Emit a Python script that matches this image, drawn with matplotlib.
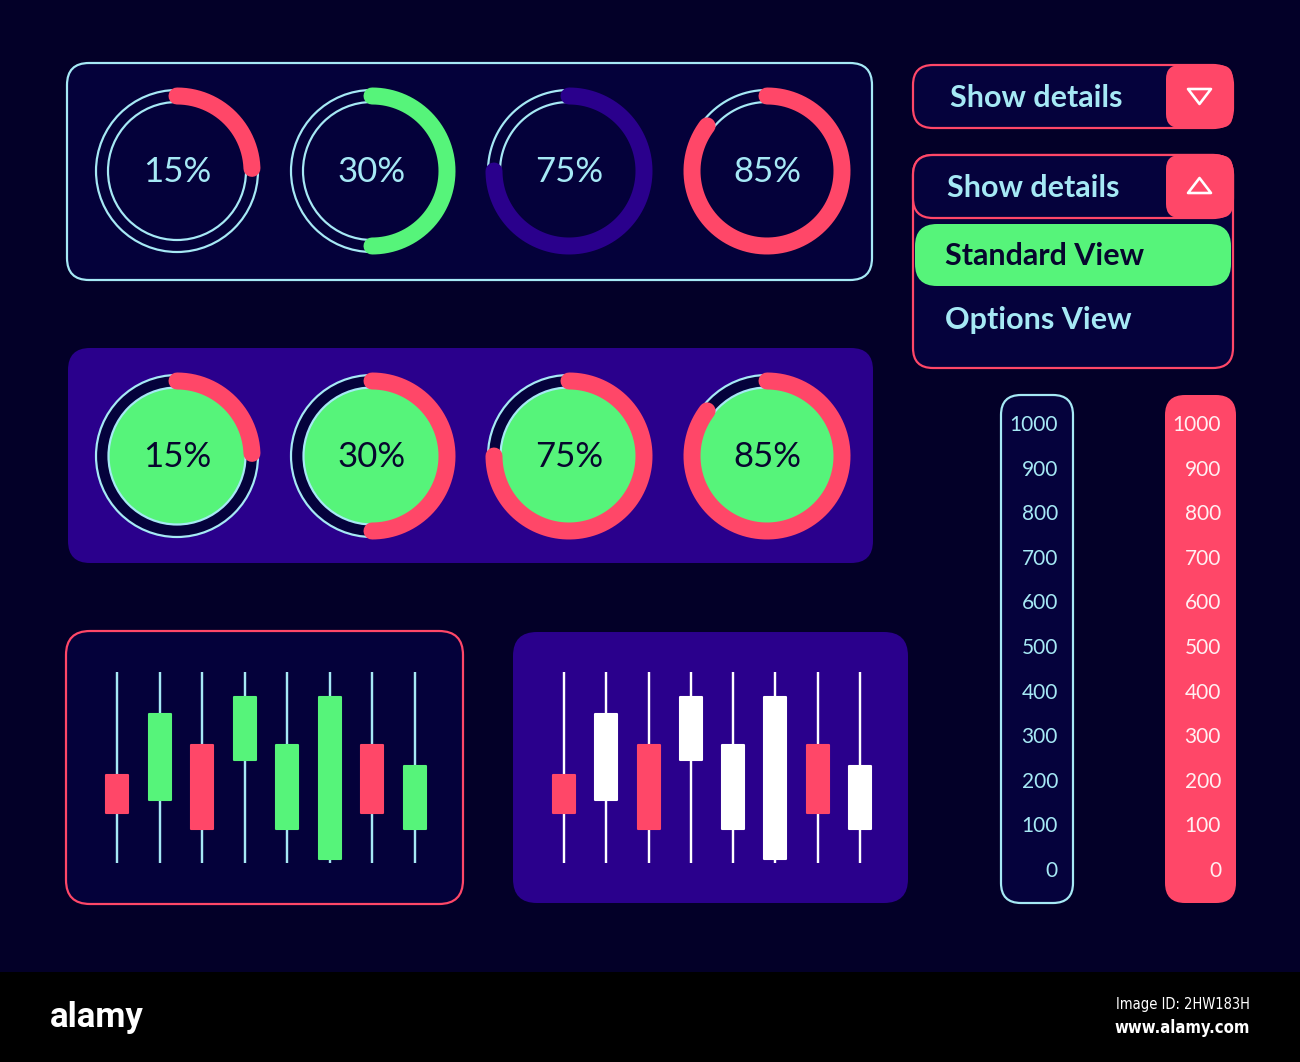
import matplotlib.pyplot as plt
import numpy as np
from matplotlib.patches import FancyBboxPatch, Circle, Polygon

# colours
bg = '#030028'
navy = '#05023c'
cyan = '#a6e9f5'
red = '#ff4768'
green = '#56f47a'
purple = '#2a008c'
dark_txt = '#07062e'

# donut widgets
pct_labels = ['15%', '30%', '75%', '85%']
arc_sweep = [88, 180, 270, 307]          # degrees clockwise from 12 o'clock
top_arc_colors = [red, green, purple, red]

# candlesticks (wick spans 0..100)
candle_low = [26, 33, 18, 54, 18, 2, 26, 18]
candle_high = [46, 78, 62, 87, 62, 87, 62, 51]
candle_up = [False, True, False, True, True, True, False, True]

# vertical scales
scale_ticks = [0, 100, 200, 300, 400, 500, 600, 700, 800, 900, 1000]

# dropdowns
menu_title = 'Show details'
menu_items = ['Standard View', 'Options View']

W, H = 1300, 1062
fig = plt.figure(figsize=(W / 100, H / 100), dpi=100, facecolor=bg)
ax = fig.add_axes([0, 0, 1, 1])
ax.set_xlim(0, W)
ax.set_ylim(H, 0)
ax.axis('off')
ax.set_facecolor(bg)

PX = 0.72  # points per pixel


def rbox(x0, y0, x1, y1, r, fc, ec='none', lw=0, z=1):
    p = FancyBboxPatch((x0, y0), x1 - x0, y1 - y0,
                       boxstyle=f'round,pad=0,rounding_size={r}',
                       fc=fc, ec=ec, lw=lw * PX, zorder=z)
    ax.add_patch(p)


def arc(cx, cy, r, sweep, color, width, z=5):
    t = np.radians(np.linspace(90, 90 - sweep, 300))
    ax.plot(cx + r * np.cos(t), cy - r * np.sin(t), color=color,
            lw=width * PX, solid_capstyle='round', zorder=z)


pct_font = dict(family='Lato', weight='normal', fontsize=25)
menu_font = dict(family='Lato', weight='bold', fontsize=22)

ax.add_patch(plt.Rectangle((0, 0), W, H, fc=bg, zorder=0))

# ---- top donut panel
rbox(67, 63, 872, 280, 22, '#04013a', cyan, 2.2, z=1)
centers_x = [177, 372, 569, 767]
for i, cx in enumerate(centers_x):
    cy = 171
    if i < 2:
        ax.add_patch(Circle((cx, cy), 81, fc='none', ec=cyan, lw=2.2 * PX, zorder=3))
        ax.add_patch(Circle((cx, cy), 69, fc='none', ec=cyan, lw=2.2 * PX, zorder=3))
    else:
        # thin rings only where the thick arc is not
        t = np.radians(np.linspace(90, 90 + (360 - arc_sweep[i]), 200))
        for r in (81, 69):
            ax.plot(cx + r * np.cos(t), cy - r * np.sin(t), color=cyan,
                    lw=2.2 * PX, zorder=3)
    arc(cx, cy, 75, arc_sweep[i], top_arc_colors[i], 17)
    ax.text(cx, cy + 1, pct_labels[i], color=cyan, ha='center', va='center',
            zorder=6, **pct_font)

# ---- second donut panel
rbox(68, 348, 873, 563, 22, purple, z=1)
for i, cx in enumerate(centers_x):
    cy = 456
    ax.add_patch(Circle((cx, cy), 81, fc=navy, ec=cyan, lw=2.2 * PX, zorder=3))
    ax.add_patch(Circle((cx, cy), 68.5, fc=green, ec=cyan, lw=2.2 * PX, zorder=4))
    arc(cx, cy, 75, arc_sweep[i], red, 17)
    ax.text(cx, cy + 1, pct_labels[i], color=dark_txt, ha='center', va='center',
            zorder=6, **pct_font)

# ---- dropdown 1
rbox(913, 65, 1233, 128, 20, navy, red, 2.2, z=2)
rbox(1166, 65, 1233, 128, 14, red, z=3)
ax.add_patch(Polygon([(1188, 89), (1211, 89), (1199.5, 104)], closed=True,
                     fc='none', ec='white', lw=2.6 * PX, joinstyle='round', zorder=4))
ax.text(950, 98, menu_title, color=cyan, ha='left', va='center', zorder=5, **menu_font)

# ---- dropdown 2 (open)
rbox(913, 155, 1233, 368, 20, navy, red, 2.2, z=2)
rbox(913, 155, 1233, 218, 20, navy, red, 2.2, z=3)
rbox(1166, 155, 1233, 218, 14, red, z=4)
ax.add_patch(Polygon([(1188, 193), (1211, 193), (1199.5, 178)], closed=True,
                     fc='none', ec='white', lw=2.6 * PX, joinstyle='round', zorder=5))
ax.text(947, 188, menu_title, color=cyan, ha='left', va='center', zorder=5, **menu_font)
rbox(915, 224, 1231, 286, 22, green, z=3)
ax.text(945, 256, menu_items[0], color=dark_txt, ha='left', va='center', zorder=5, **menu_font)
ax.text(945, 320, menu_items[1], color=cyan, ha='left', va='center', zorder=5, **menu_font)

# ---- scale columns
rbox(1001, 395, 1073, 903, 20, navy, cyan, 2.2, z=2)
rbox(1165, 395, 1236, 903, 20, red, z=2)


def px_axes(x0, x1, y_top, y_bot):
    a = fig.add_axes([x0 / W, (H - y_bot) / H, (x1 - x0) / W, (y_bot - y_top) / H])
    a.axis('off')
    a.patch.set_alpha(0)
    return a


for x0, x1, col in [(1001, 1073, cyan), (1165, 1236, '#fff0f2')]:
    sa = px_axes(x0, x1, 425, 871)
    sa.set_xlim(x0, x1)
    sa.set_ylim(0, 1000)
    for v in scale_ticks:
        sa.text(x1 - 15, v, str(v), color=col, ha='right', va='center',
                family='Lato', weight='normal', fontsize=15, clip_on=False)

# ---- candlestick panels
rbox(66, 631, 463, 904, 24, '#04013a', red, 2.2, z=1)
rbox(513, 632, 908, 903, 24, purple, z=1)

xs = np.arange(1, len(candle_low) + 1)
for (wl, wr, up_col, wick_col) in [(96, 436, green, cyan), (543, 881, 'white', 'white')]:
    ca = px_axes(wl, wr, 672, 863)
    ca.set_xlim(0.5, len(xs) + 0.5)
    ca.set_ylim(0, 100)
    ca.vlines(xs, 0, 100, color=wick_col, lw=2.4 * PX, zorder=1)
    cols = [up_col if u else red for u in candle_up]
    hts = [h - l for l, h in zip(candle_low, candle_high)]
    ca.bar(xs, hts, bottom=candle_low, width=0.52, color=cols, edgecolor=cols,
           lw=1.5, joinstyle='round', zorder=2)

# ---- footer band
ax.add_patch(plt.Rectangle((0, 972), W, H - 972, fc='black', zorder=1))
ax.text(50, 1017, 'alamy', color='white', ha='left', va='center', fontsize=25,
        weight='bold', family='Roboto', zorder=2)
ax.text(1250, 1004, 'Image ID: 2HW183H', color='white', ha='right', va='center',
        fontsize=10.5, family='DejaVu Sans', stretch='condensed', zorder=2)
ax.text(1250, 1028, 'www.alamy.com', color='white', ha='right', va='center',
        fontsize=12, weight='bold', family='DejaVu Sans', stretch='condensed', zorder=2)

fig.savefig('out.png', dpi=100, facecolor=bg)
